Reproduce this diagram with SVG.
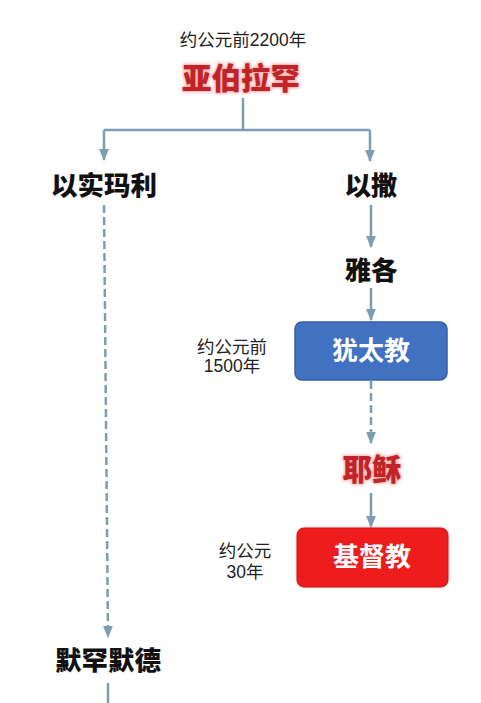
<svg xmlns="http://www.w3.org/2000/svg" width="481" height="703" viewBox="0 0 481 703">
<defs>
<style>
.ln{stroke:#7d9db3;stroke-width:2.5;fill:none}
.dash{stroke-dasharray:8 4}
.date{font-family:"Liberation Sans","Noto Sans CJK SC",sans-serif;font-size:17.5px;fill:#222;text-anchor:middle}
.name{font-family:"Noto Sans CJK SC",sans-serif;font-size:26.5px;font-weight:900;fill:#111;text-anchor:middle}
.red{font-family:"Noto Sans CJK SC",sans-serif;font-size:29.5px;font-weight:900;fill:#c02428;text-anchor:middle}
.box{font-family:"Noto Sans CJK SC",sans-serif;font-size:26px;font-weight:bold;fill:#fff;text-anchor:middle}
</style>
<marker id="ah" viewBox="0 0 10 10" refX="9" refY="5" markerWidth="5" markerHeight="5" orient="auto" markerUnits="strokeWidth">
<path d="M0,1 L10,5 L0,9 Z" fill="#7d9db3"/>
</marker>
<filter id="glow" x="-20%" y="-20%" width="140%" height="140%">
<feGaussianBlur stdDeviation="1.5"/>
</filter>
</defs>
<rect width="481" height="703" fill="#fff"/>
<g id="connectors">
<path class="ln" d="M243,98 V130"/>
<path class="ln" d="M104,130 H370"/>
<path class="ln" d="M104,130 V160" marker-end="url(#ah)"/>
<path class="ln" d="M370,130 V161" marker-end="url(#ah)"/>
<path class="ln dash" d="M104,205 L108,637" marker-end="url(#ah)"/>
<path class="ln" d="M108,683 V703"/>
<path class="ln" d="M371,205 V247" marker-end="url(#ah)"/>
<path class="ln" d="M371,288 V320" marker-end="url(#ah)"/>
<path class="ln dash" d="M371,381 V443" marker-end="url(#ah)"/>
<path class="ln" d="M371,493 V527" marker-end="url(#ah)"/>
</g>
<g id="abraham">
<text class="date" x="243" y="46">约公元前2200年</text>
<text class="red" x="241" y="89" fill="#f2a8a8" stroke="#f6bcbc" stroke-width="2.5" filter="url(#glow)">亚伯拉罕</text>
<text class="red" x="241" y="89">亚伯拉罕</text>
</g>
<g id="ishmael">
<text class="name" x="104" y="195">以实玛利</text>
</g>
<g id="isaac">
<text class="name" x="371" y="195">以撒</text>
</g>
<g id="jacob">
<text class="name" x="371" y="280">雅各</text>
</g>
<g id="judaism">
<rect x="295" y="322" width="152" height="58" rx="7" fill="#4371c2" stroke="#3560a8" stroke-width="1.5"/>
<text class="box" x="371" y="360">犹太教</text>
<text class="date" x="232" y="353">约公元前</text>
<text class="date" x="232" y="372">1500年</text>
</g>
<g id="jesus">
<text class="red" x="372" y="480" fill="#f2a8a8" stroke="#f6bcbc" stroke-width="2.5" filter="url(#glow)">耶稣</text>
<text class="red" x="372" y="480">耶稣</text>
</g>
<g id="christianity">
<rect x="297" y="528" width="151" height="59" rx="7" fill="#f7b8b8" filter="url(#glow)"/>
<rect x="297" y="528" width="151" height="59" rx="7" fill="#ee1c1c" stroke="#d01010" stroke-width="1"/>
<text class="box" x="372" y="566">基督教</text>
<text class="date" x="245" y="557">约公元</text>
<text class="date" x="245" y="578">30年</text>
</g>
<g id="muhammad">
<text class="name" x="108" y="670">默罕默德</text>
</g>
</svg>
